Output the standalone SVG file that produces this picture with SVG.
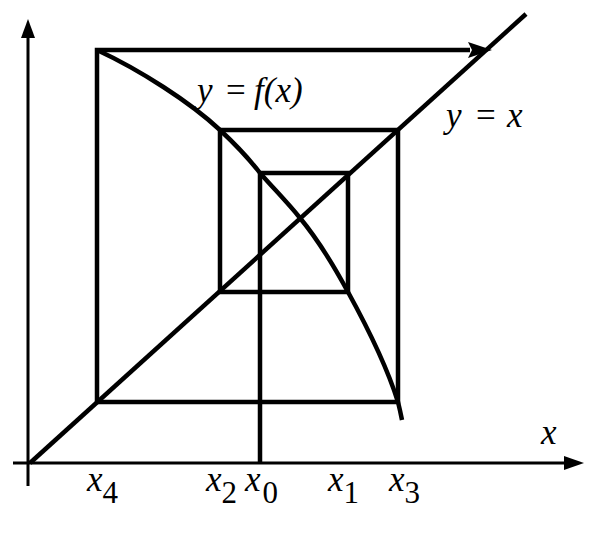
<svg xmlns="http://www.w3.org/2000/svg" width="593" height="551" viewBox="0 0 593 551">
<style>
.ax{stroke:#000;stroke-width:3;fill:none}
.ln{stroke:#000;stroke-width:4.5;fill:none;stroke-linejoin:miter;stroke-linecap:butt}
.s{font-style:normal;font-size:31px}
.n{font-style:normal}
</style>
<g id="axes">
<path class="ax" d="M28,486 V35"/>
<path d="M28,19 L21,38 L35,38 z" fill="#000"/>
<path class="ax" d="M13,463 H566"/>
<path d="M584,463 L564,456 L564,470 z" fill="#000"/>
</g>
<g id="connectors">
<path id="diag" class="ln" d="M30,463 L526,14"/>
<path id="curve" class="ln" d="M97,50 C140,70 190,102 220,130 C235,144 250,160 260,173 C275,190 288,203 300,218 C320,242 335,268 348,292 C370,332 388,370 398,402 C400,410 401,415 402,420"/>
<path id="cobweb" class="ln" d="M260,463 V173 H348 V292 H220 V130 H398 V402 H97 V50 H470"/>
<path d="M492,50 L468,42 L472,50 L468,58 z" fill="#000"/>
</g>
<g id="labels" font-family="Liberation Serif, Times New Roman, serif" font-style="italic" font-size="35" fill="#000">
<text x="197" y="102">y<tspan class="n" x="226">=</tspan><tspan x="254">f(x)</tspan></text>
<text x="446" y="127">y<tspan class="n" x="476">=</tspan><tspan x="507">x</tspan></text>
<text x="541" y="444">x</text>
<text x="87" y="491">x<tspan class="s" dy="12">4</tspan></text>
<text x="206" y="491">x<tspan class="s" dy="12">2</tspan></text>
<text x="245" y="491">x<tspan class="s" dx="2" dy="12">0</tspan></text>
<text x="328" y="491">x<tspan class="s" dy="12">1</tspan></text>
<text x="389" y="491">x<tspan class="s" dy="12">3</tspan></text>
</g>
</svg>
